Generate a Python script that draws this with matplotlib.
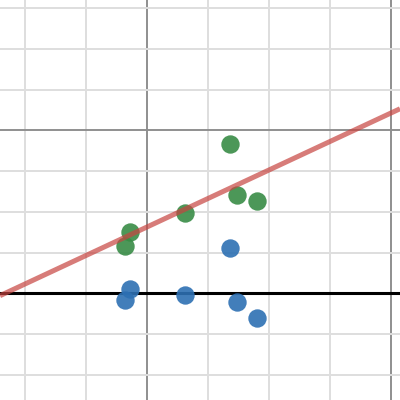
import numpy as np
import matplotlib
matplotlib.use("Agg")
import matplotlib.pyplot as plt
from matplotlib.ticker import MultipleLocator

# points
x_vals = [3.64, 3.73, 4.63, 5.37, 5.48, 5.80]
y_green = [1.17, 1.51, 1.98, 3.67, 2.42, 2.26]
y_blue = [-0.17, 0.11, -0.05, 1.11, -0.21, -0.60]

x_range = [1.595, 8.152]
y_range = [-2.622, 7.206]

fig = plt.figure(figsize=(4, 4), dpi=100)
ax = fig.add_axes([0, 0, 1, 1])
ax.set_xlim(x_range)
ax.set_ylim(y_range)

ax.xaxis.set_major_locator(MultipleLocator(4))
ax.yaxis.set_major_locator(MultipleLocator(4))
ax.xaxis.set_minor_locator(MultipleLocator(1))
ax.yaxis.set_minor_locator(MultipleLocator(1))
ax.grid(which="minor", color="#dedede", linewidth=1.4, zorder=0)
ax.grid(which="major", color="#8f8f8f", linewidth=1.4, zorder=0)
ax.tick_params(which="both", length=0, labelbottom=False, labelleft=False)
for s in ax.spines.values():
    s.set_visible(False)
ax.set_axisbelow(True)

ax.axhline(0, color="black", linewidth=2.2, zorder=1)

ax.scatter(x_vals, y_green, s=175, color="#388c46", alpha=0.9, linewidths=0, zorder=2)
ax.scatter(x_vals, y_blue, s=175, color="#2d70b3", alpha=0.9, linewidths=0, zorder=2)

# least squares line through the green points
m, b = np.polyfit(x_vals, y_green, 1)
xx = np.array(x_range)
ax.plot(xx, m * xx + b, color="#c74440", alpha=0.7, linewidth=3.6,
        solid_capstyle="butt", zorder=3)

fig.savefig("out.png", dpi=100)
